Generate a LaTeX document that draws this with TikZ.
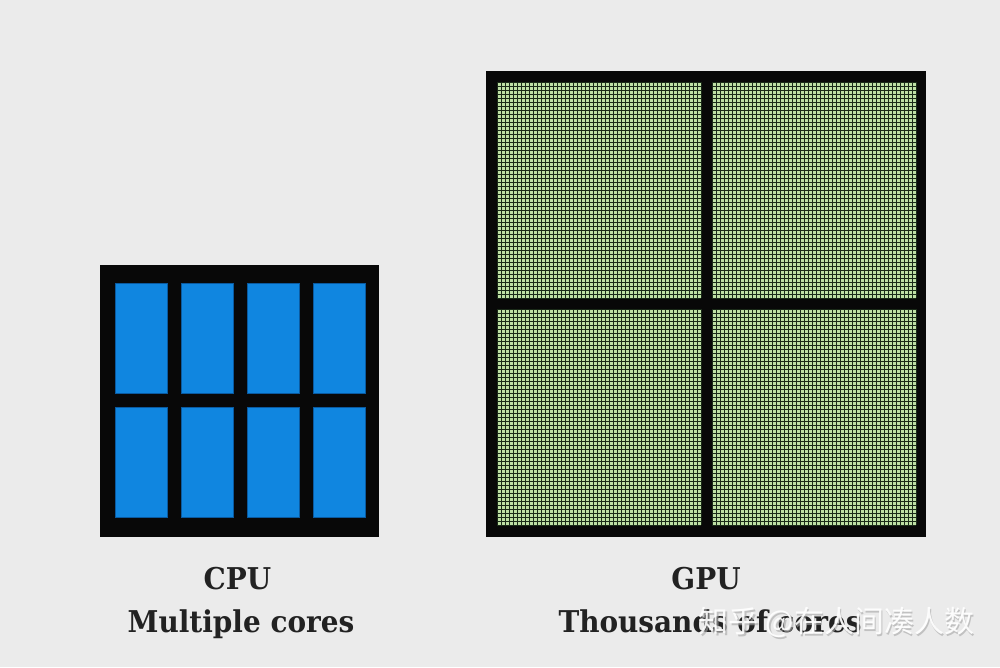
\documentclass[tikz,border=0pt]{standalone}
\usepackage{fontspec}
\setmainfont{DejaVu Serif}
\newfontfamily\cjkfont{Noto Sans CJK SC}
\usepackage{tikz}
\usetikzlibrary{positioning}
\definecolor{bggray}{RGB}{235, 235, 235}
\definecolor{chipblack}{RGB}{8, 8, 8}
\definecolor{coreblue}{RGB}{16, 134, 224}
\definecolor{coreedge}{RGB}{10, 90, 160}
\definecolor{gpucell}{RGB}{190, 224, 164}
\definecolor{gpuline}{RGB}{26, 42, 24}
\definecolor{labelgray}{RGB}{34, 34, 34}
\tikzstyle{chip} = [rectangle, fill=chipblack, inner sep=0pt]
\tikzstyle{core} = [rectangle, fill=coreblue, draw=coreedge, line width=1pt, inner sep=0pt, minimum width=52pt, minimum height=110pt]
\tikzstyle{cellgrid} = [draw=gpuline, line width=1pt]
\tikzstyle{caption} = [text=labelgray, font=\fontsize{30}{34}\selectfont\bfseries, anchor=base, inner sep=0pt, xscale=0.93]
\tikzstyle{wmark} = [font=\cjkfont\fontsize{30}{34}\selectfont, anchor=base, inner sep=0pt]

\begin{document}
\begin{tikzpicture}[x=1pt, y=-1pt]

% background =============================
\fill[bggray] (0,0) rectangle (1000,667);
\useasboundingbox (0,0) rectangle (1000,667);

% cpu chip
\node[chip, minimum width=279pt, minimum height=272pt] (cpu) at (239.5,401) {};

% cpu cores
\foreach \c [count=\i] in {141,207,273,339} {
  \node[core] (core1\i) at (\c,338.5) {};
  \node[core] (core2\i) at (\c,462) {};
}

% gpu chip
\node[chip, minimum width=440pt, minimum height=466pt] (gpu) at (706,304) {};

% gpu cores, four blocks of small cells
\foreach \qx in {497,712} {
  \foreach \qy in {82,309} {
    \fill[gpucell] (\qx,\qy) rectangle ++(204,216);
    \foreach \k in {0,...,51}
      \draw[cellgrid] (\qx+\k*4,\qy) -- ++(0,216);
    \foreach \k in {0,...,54}
      \draw[cellgrid] (\qx,\qy+\k*4) -- ++(204,0);
  }
}

% labels
\node[caption] (cpuname) at (237.5,589) {CPU};
\node[caption] (cpucores) at (241,632) {Multiple cores};
\node[caption] (gpuname) at (706,589) {GPU};
\node[caption] (gpucores) at (710,632) {Thousands of cores};

% watermark
\node[wmark, text=black!35, opacity=0.6] (markshadow) at (838,634) {知乎 @在人间凑人数};
\node[wmark, text=white, opacity=0.92] (watermark) at (836.5,632.5) {知乎 @在人间凑人数};

\end{tikzpicture}
\end{document}
